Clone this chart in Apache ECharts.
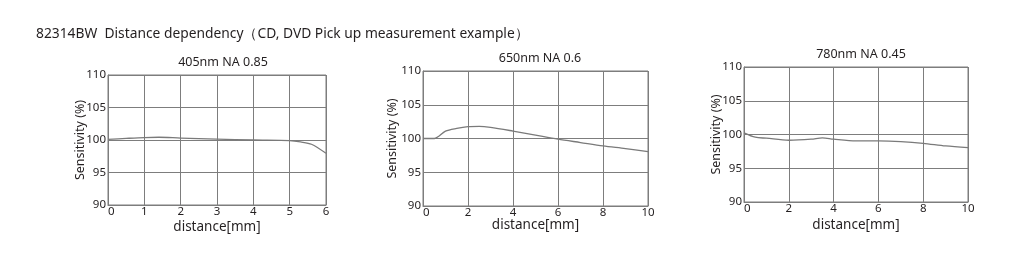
<!DOCTYPE html>
<html><head><meta charset="utf-8">
<script src="https://cdn.jsdelivr.net/npm/echarts@6/dist/echarts.min.js"></script>
<style>html,body{margin:0;padding:0;background:#fff}#c{width:1024px;height:267px}</style>
</head><body><div id="c"></div>
<script>
const mainTitle = '82314BW  Distance dependency（CD, DVD Pick up measurement example）';
const subTitles = ['405nm NA 0.85', '650nm NA 0.6', '780nm NA 0.45'];
const yTicks = [90, 95, 100, 105, 110];
const xName = 'distance[mm]';
const yName = 'Sensitivity (%)';

const dist405 = [0, 0.5, 1, 1.4, 2, 3, 4, 5, 5.3, 5.6, 6];
const sens405 = [100.1, 100.25, 100.38, 100.42, 100.3, 100.15, 100.0, 99.9, 99.7, 99.35, 97.95];

const dist650 = [0, 0.5, 1, 1.5, 2, 2.5, 3, 4, 5, 6, 7, 8, 9, 10];
const sens650 = [100, 100, 101.1, 101.5, 101.75, 101.8, 101.65, 101.1, 100.5, 99.9, 99.4, 98.9, 98.5, 98.05];

const dist780 = [0, 0.5, 1, 2, 3, 3.5, 4, 5, 6, 7, 8, 9, 10];
const sens780 = [100.25, 99.6, 99.45, 99.15, 99.3, 99.5, 99.3, 99.05, 99.05, 98.95, 98.7, 98.3, 98.05];

const xMax = [6, 10, 10];
const xInt = [1, 2, 2];
const dists = [dist405, dist650, dist780];
const sens = [sens405, sens650, sens780];

const txt = '#231f20';
const gridCol = '#7d7d7d';
const font = 'Noto Sans';

const grids = [
  {left: 108, top: 75, width: 218, height: 130},
  {left: 423, top: 71, width: 225, height: 135},
  {left: 744, top: 67, width: 224, height: 135}
];
const xGaps = [15, 12, 16];
const yGaps = [21, 24, 21];
const titlePos = [{x: 218, y: 51}, {x: 535, y: 47}, {x: 856, y: 43}];

const option = {
  backgroundColor: '#fff',
  animation: false,
  title: [{text: mainTitle, left: 31, top: 22, textStyle: {fontFamily: font, fontSize: 13.8, fontWeight: 'normal', color: txt}}]
    .concat(subTitles.map((t, i) => ({text: t, left: titlePos[i].x, top: titlePos[i].y, textAlign: 'center',
      textStyle: {fontFamily: font, fontSize: 12.5, fontWeight: 'normal', color: txt}}))),
  grid: grids.map(g => Object.assign({show: true, borderColor: gridCol, borderWidth: 1, backgroundColor: 'transparent'}, g)),
  xAxis: grids.map((g, i) => ({
    type: 'value', gridIndex: i, min: 0, max: xMax[i], interval: xInt[i],
    name: xName, nameLocation: 'middle', nameGap: xGaps[i], nameMoveOverlap: false,
    nameTextStyle: {fontFamily: font, fontSize: 13.5, color: txt},
    axisLine: {show: true, lineStyle: {color: gridCol, width: 1}},
    axisTick: {show: false},
    axisLabel: {fontFamily: font, fontSize: 11.5, color: txt, margin: 1, alignMinLabel: 'left'},
    splitLine: {show: true, lineStyle: {color: gridCol, width: 1}}
  })),
  yAxis: grids.map((g, i) => ({
    type: 'value', gridIndex: i, min: 90, max: 110, interval: 5,
    name: yName, nameLocation: 'middle', nameGap: yGaps[i], nameRotate: 90, nameMoveOverlap: false,
    nameTextStyle: {fontFamily: font, fontSize: 12.5, color: txt},
    axisLine: {show: true, lineStyle: {color: gridCol, width: 1}},
    axisTick: {show: false},
    axisLabel: {fontFamily: font, fontSize: 11.5, color: txt, margin: 2,
      formatter: v => yTicks.includes(v) ? String(v) : ''},
    splitLine: {show: true, lineStyle: {color: gridCol, width: 1}}
  })),
  series: grids.map((g, i) => ({
    type: 'line', xAxisIndex: i, yAxisIndex: i, smooth: 0.3, symbol: 'none',
    lineStyle: {color: '#7a7a7a', width: 1.3},
    data: dists[i].map((d, k) => [d, sens[i][k]])
  }))
};
echarts.init(document.getElementById('c')).setOption(option);
</script></body></html>
